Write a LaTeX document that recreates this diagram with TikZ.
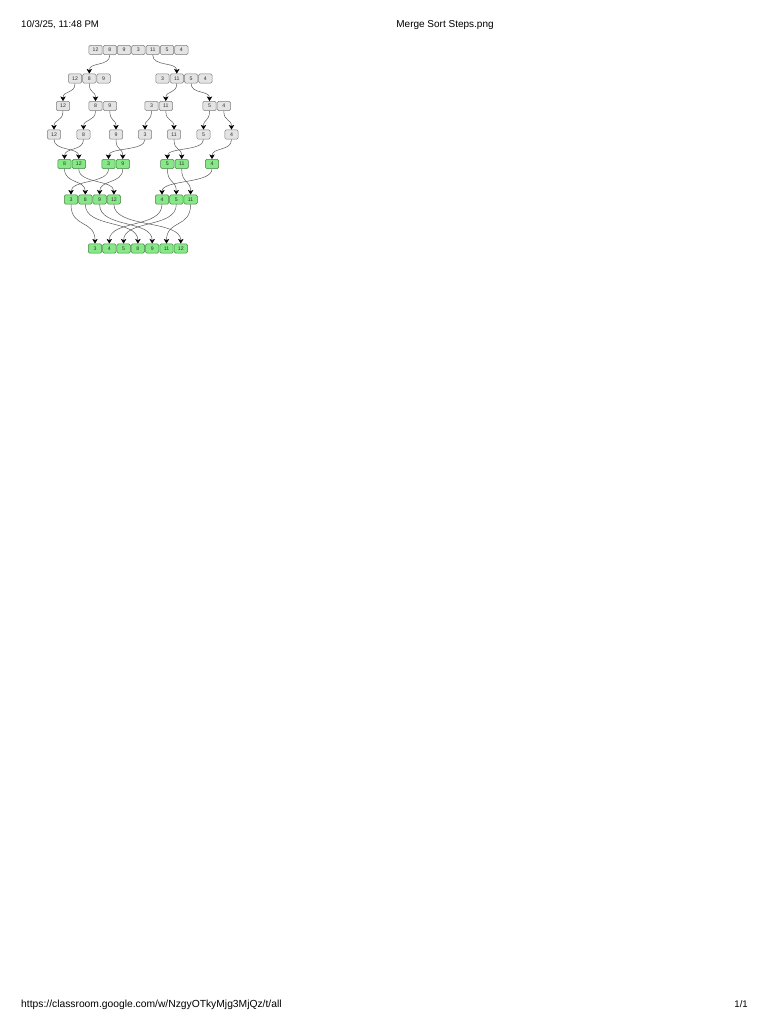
\documentclass[tikz,border=0pt]{standalone}
\usepackage{fontspec}
\setmainfont{Liberation Sans}
\usetikzlibrary{arrows.meta}
\definecolor{cellgray}{RGB}{228,228,228}
\definecolor{cellgrayline}{RGB}{125,125,125}
\definecolor{cellgreen}{RGB}{134,232,134}
\definecolor{cellgreenline}{RGB}{70,130,70}
\definecolor{conncol}{RGB}{90,90,90}
\definecolor{celltext}{RGB}{50,50,50}
\tikzset{
  cellbase/.style={rectangle, rounded corners=1.5pt, minimum width=13.4pt, minimum height=9.4pt,
    inner sep=0pt, line width=0.5pt, font=\fontsize{5.2}{6}\selectfont, text=celltext},
  gcell/.style={cellbase, fill=cellgray, draw=cellgrayline},
  ncell/.style={cellbase, fill=cellgreen, draw=cellgreenline},
  conn/.style={draw=conncol, line width=0.5pt, -{Stealth[length=4.6pt,width=5.4pt,inset=1.2pt,fill=black,color=black]}},
  hdr/.style={font=\fontsize{9.6}{11}\selectfont, inner sep=0pt, text=black}
}
\newcommand\cn[3]{\draw[conn] (#1.south) .. controls +(0,#3) and +(0,-#3) .. (#2.north);}
\begin{document}
\begin{tikzpicture}[x=1pt,y=-1pt]
\useasboundingbox (0,0) rectangle (768,1024);
\fill[white] (0,0) rectangle (768,1024);
% header / footer
\node[hdr, anchor=base west] (hleft) at (21,28) {10/3/25, 11:48 PM};
\node[hdr, anchor=base, font=\fontsize{10}{11}\selectfont] (hmid) at (445,28) {Merge Sort Steps.png};
\node[hdr, anchor=base west, font=\fontsize{10.3}{11}\selectfont] (fleft) at (21,1007) {https://classroom.google.com/w/NzgyOTkyMjg3MjQz/t/all};
\node[hdr, anchor=base east] (fright) at (748,1007) {1/1};
% row 1
\node[gcell] (a1) at (95.5,50) {12};
\node[gcell] (a2) at (109.8,50) {8};
\node[gcell] (a3) at (124.1,50) {9};
\node[gcell] (a4) at (138.4,50) {3};
\node[gcell] (a5) at (152.7,50) {11};
\node[gcell] (a6) at (167,50) {5};
\node[gcell] (a7) at (181.3,50) {4};
% row 2
\node[gcell] (b1) at (75,78.5) {12};
\node[gcell] (b2) at (89.3,78.5) {8};
\node[gcell] (b3) at (103.6,78.5) {9};
\node[gcell] (b4) at (162.5,78.5) {3};
\node[gcell] (b5) at (176.8,78.5) {11};
\node[gcell] (b6) at (191.1,78.5) {5};
\node[gcell] (b7) at (205.4,78.5) {4};
% row 3
\node[gcell] (c1) at (63,106) {12};
\node[gcell] (c2) at (95.5,106) {8};
\node[gcell] (c3) at (109.8,106) {9};
\node[gcell] (c4) at (151.5,106) {3};
\node[gcell] (c5) at (165.8,106) {11};
\node[gcell] (c6) at (209.5,106) {5};
\node[gcell] (c7) at (223.8,106) {4};
% row 4
\node[gcell] (d1) at (54,134.5) {12};
\node[gcell] (d2) at (83.5,134.5) {8};
\node[gcell] (d3) at (116,134.5) {9};
\node[gcell] (d4) at (145,134.5) {3};
\node[gcell] (d5) at (174,134.5) {11};
\node[gcell] (d6) at (203.5,134.5) {5};
\node[gcell] (d7) at (231.5,134.5) {4};
% row 5
\node[ncell] (e1) at (64.5,164) {8};
\node[ncell] (e2) at (78.8,164) {12};
\node[ncell] (e3) at (108.5,164) {3};
\node[ncell] (e4) at (122.8,164) {9};
\node[ncell] (e5) at (167.4,164) {5};
\node[ncell] (e6) at (181.7,164) {11};
\node[ncell] (e7) at (212,164) {4};
% row 6
\node[ncell] (f1) at (71,199.5) {3};
\node[ncell] (f2) at (85.3,199.5) {8};
\node[ncell] (f3) at (99.6,199.5) {9};
\node[ncell] (f4) at (113.9,199.5) {12};
\node[ncell] (f5) at (162,199.5) {4};
\node[ncell] (f6) at (176.3,199.5) {5};
\node[ncell] (f7) at (190.6,199.5) {11};
% row 7
\node[ncell] (g1) at (95,248.5) {3};
\node[ncell] (g2) at (109.3,248.5) {4};
\node[ncell] (g3) at (123.6,248.5) {5};
\node[ncell] (g4) at (137.9,248.5) {8};
\node[ncell] (g5) at (152.2,248.5) {9};
\node[ncell] (g6) at (166.5,248.5) {11};
\node[ncell] (g7) at (180.8,248.5) {12};
% connectors
\cn{a2}{b2}{12}
\cn{a5}{b5}{12}
\cn{b1}{c1}{11}
\cn{b2}{c2}{11}
\cn{b5}{c5}{11}
\cn{b6}{c6}{11}
\cn{c1}{d1}{11}
\cn{c2}{d2}{11}
\cn{c3}{d3}{11}
\cn{c4}{d4}{11}
\cn{c5}{d5}{11}
\cn{c6}{d6}{11}
\cn{c7}{d7}{11}
\cn{d1}{e2}{12}
\cn{d2}{e1}{12}
\cn{d3}{e4}{12}
\cn{d4}{e3}{12}
\cn{d5}{e6}{12}
\cn{d6}{e5}{12}
\cn{d7}{e7}{12}
\cn{e1}{f2}{15}
\cn{e2}{f4}{15}
\cn{e3}{f1}{15}
\cn{e4}{f3}{15}
\cn{e5}{f6}{15}
\cn{e6}{f7}{15}
\cn{e7}{f5}{15}
\cn{f1}{g1}{24}
\cn{f2}{g4}{24}
\cn{f3}{g5}{24}
\cn{f4}{g7}{24}
\cn{f5}{g2}{24}
\cn{f6}{g3}{24}
\cn{f7}{g6}{24}
\end{tikzpicture}
\end{document}
